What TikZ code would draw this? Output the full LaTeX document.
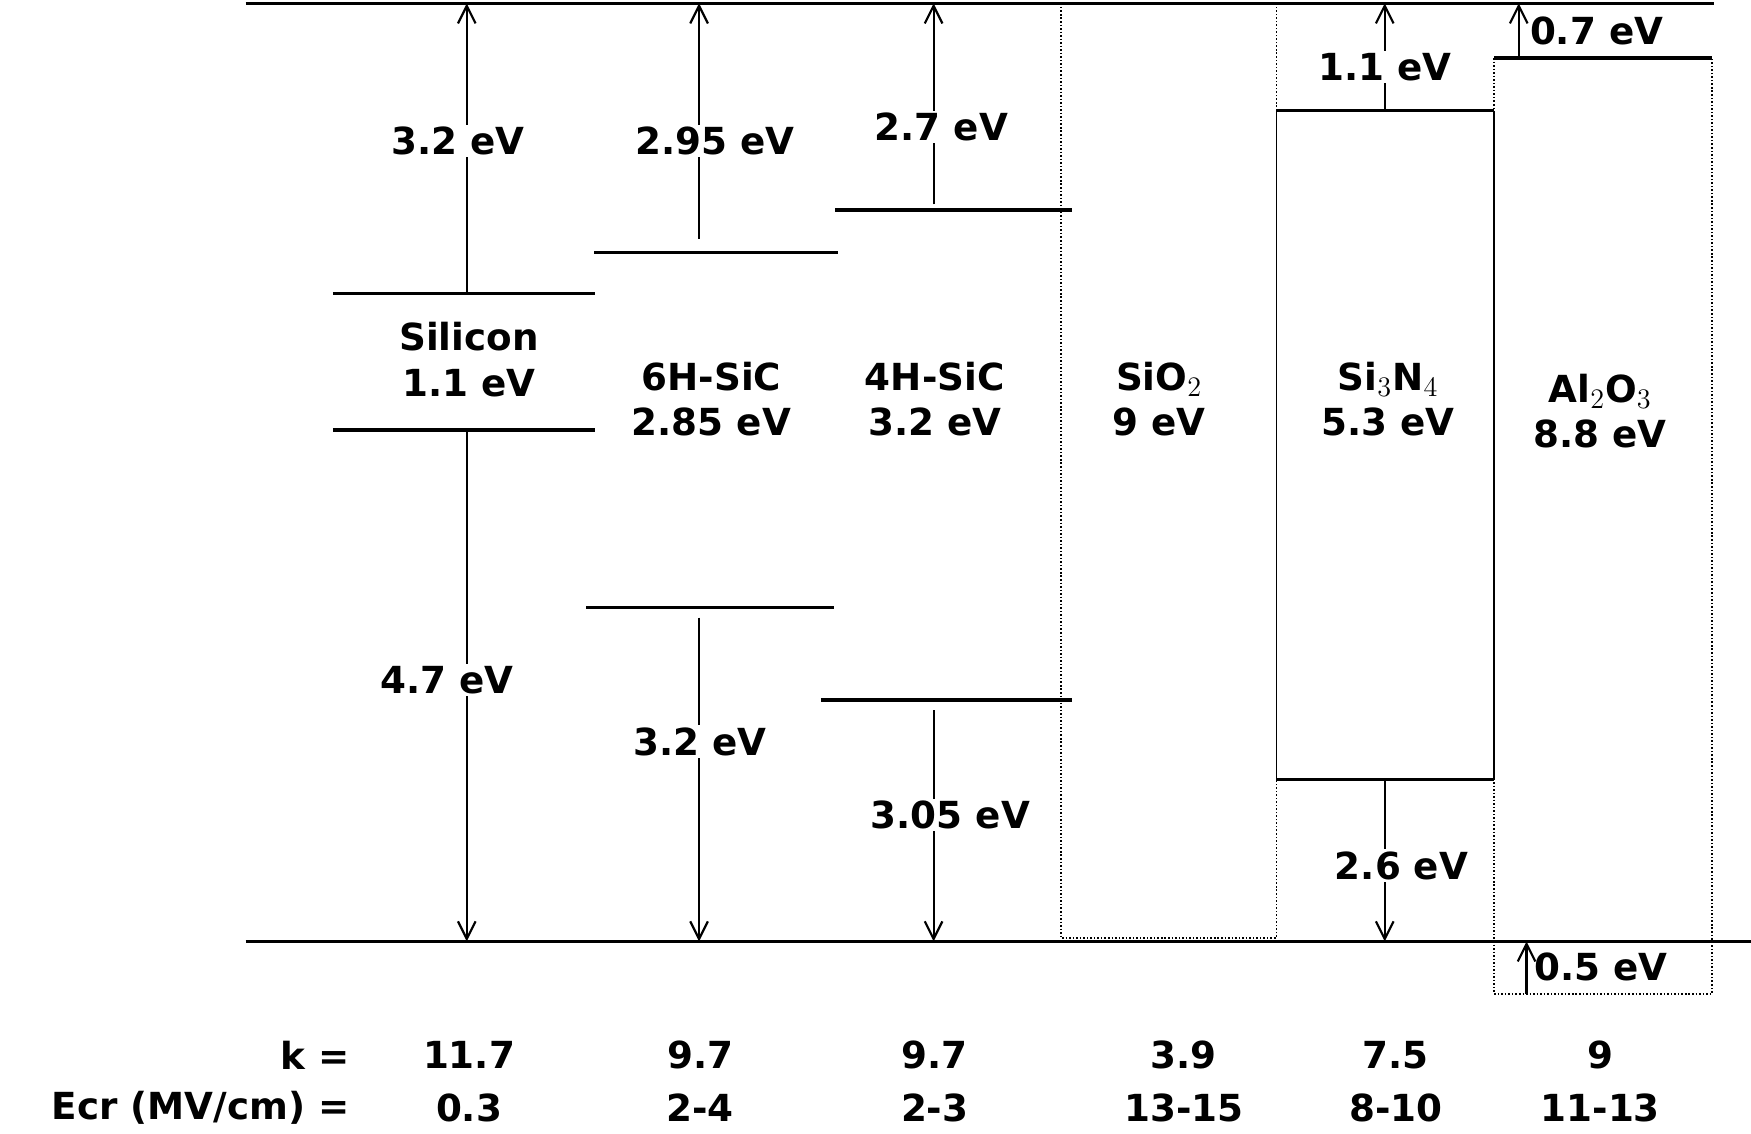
\documentclass[tikz,border=0pt]{standalone}
\usepackage{fontspec}
\setmainfont{DejaVu Sans}
\usetikzlibrary{arrows.meta}
\begin{document}
\begin{tikzpicture}[x=0.02cm,y=-0.02cm,
 lvl/.style={line width=1.8pt},
 arr/.style={line width=1.1pt,-{Straight Barb[length=9pt,width=9pt]}},
 dot/.style={line width=0.8pt,densely dotted},
 lab/.style={font=\fontsize{19}{23}\selectfont\bfseries,align=center,inner sep=1pt}]
\useasboundingbox (0,0) rectangle (1568,1015);
\draw[lvl] (220,3) -- (1535,3);
\draw[lvl] (220,843) -- (1568,843);
% Silicon
\draw[lvl] (298,263) coordinate(sic) -- (533,263);
\draw[lvl] (298,385) -- (533,385);
\coordinate (sa) at (418,263); \coordinate (sat) at (418,3);
\coordinate (sb) at (418,385); \coordinate (sbb) at (418,843);
\draw[arr] (sa) -- (sat); \draw[arr] (sb) -- (sbb);
\node[lab,fill=white] (l1) at (410,126) {3.2 eV};
\node[lab,fill=white] (l2) at (400,609) {4.7 eV};
\node[lab] (n1) at (420,322) {Silicon\\1.1 eV};
% 6H
\draw[lvl] (532,226) -- (750,226);
\draw[lvl] (525,544) -- (747,544);
\coordinate (ha) at (626,214); \coordinate (hat) at (626,3);
\coordinate (hb) at (626,553); \coordinate (hbb) at (626,843);
\draw[arr] (ha) -- (hat); \draw[arr] (hb) -- (hbb);
\node[lab,fill=white] (l3) at (640,126) {2.95 eV};
\node[lab,fill=white] (l4) at (627,664) {3.2 eV};
\node[lab] (n2) at (637,357) {6H-SiC\\2.85 eV};
% 4H
\draw[lvl] (748,188) -- (960,188);
\draw[lvl] (735,627) -- (960,627);
\coordinate (fa) at (836,183); \coordinate (fat) at (836,3);
\coordinate (fb) at (836,636); \coordinate (fbb) at (836,843);
\draw[arr] (fa) -- (fat); \draw[arr] (fb) -- (fbb);
\node[lab,fill=white] (l5) at (843,114) {2.7 eV};
\node[lab,fill=white] (l6) at (851,730) {3.05 eV};
\node[lab] (n3) at (837,357) {4H-SiC\\3.2 eV};
% SiO2
\draw[dot] (950,3) rectangle (1143,840);
\node[lab] (n4) at (1038,357) {SiO$_2$\\9 eV};
% Si3N4
\draw[lvl] (1143,99) -- (1338,99);
\draw[lvl] (1143,698) -- (1338,698);
\draw[line width=0.8pt] (1143,99) -- (1143,698) (1338,99) -- (1338,698);
\coordinate (na) at (1240,99); \coordinate (nat) at (1240,3);
\coordinate (nb) at (1240,698); \coordinate (nbb) at (1240,843);
\draw[arr] (na) -- (nat); \draw[arr] (nb) -- (nbb);
\node[lab,fill=white] (l7) at (1240,60) {1.1 eV};
\node[lab,fill=white] (l8) at (1255,775) {2.6 eV};
\node[lab] (n5) at (1243,357) {Si$_3$N$_4$\\5.3 eV};
% Al2O3
\draw[lvl] (1338,52) -- (1533,52);
\draw[dot] (1338,52) rectangle (1533,890);
\coordinate (aa) at (1360,52); \coordinate (aat) at (1360,3);
\coordinate (ab) at (1367,890); \coordinate (abt) at (1367,843);
\draw[arr] (aa) -- (aat); \draw[arr] (ab) -- (abt);
\node[lab,anchor=west] (l9) at (1368,28) {0.7 eV};
\node[lab,anchor=west] (l10) at (1372,866) {0.5 eV};
\node[lab] (n6) at (1433,368) {Al$_2$O$_3$\\8.8 eV};
% table
\node[lab,anchor=east] (k) at (315,945) {k =};
\node[lab,anchor=east] (e) at (315,992) {Ecr (MV/cm) =};
\foreach \x/\k/\e [count=\i] in {420/11.7/0.3,627/9.7/2-4,837/9.7/2-3,1060/3.9/13-15,1250/7.5/8-10,1433/9/11-13}{
 \node[lab] (k\i) at (\x,945) {\k};
 \node[lab] (e\i) at (\x,992) {\e};}
\end{tikzpicture}
\end{document}
